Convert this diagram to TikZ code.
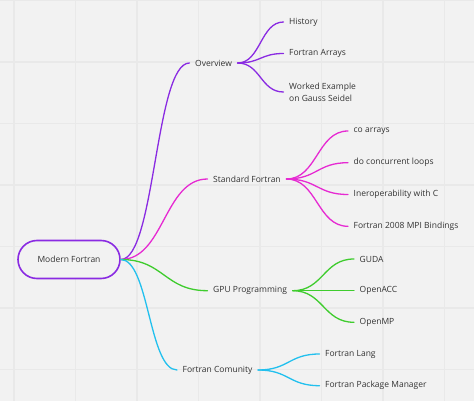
\documentclass[tikz,border=0pt]{standalone}
\usepackage{fontspec}
\setmainfont{Open Sans}
\usetikzlibrary{calc}
\definecolor{bg}{HTML}{F2F2F2}
\definecolor{gridc}{HTML}{E9E9E9}
\definecolor{txt}{HTML}{333333}
\definecolor{cpurple}{HTML}{8A2BE2}
\definecolor{cmagenta}{HTML}{E62AD2}
\definecolor{cgreen}{HTML}{3FCC2E}
\definecolor{ccyan}{HTML}{22C0EE}
\newcommand\conn[3]{\draw[branch,#1] let \p1=(#2), \p2=(#3) in (\p1) .. controls ({(\x1+\x2)/2},\y1) and ({(\x1+\x2)/2},\y2) .. (\p2);}
\begin{document}
\begin{tikzpicture}[x=1pt,y=-1pt,
  every node/.style={font=\fontsize{8.5}{12}\selectfont, text=txt},
  leaf/.style={anchor=west, inner xsep=5.5pt, inner ysep=1pt, align=left},
  rootbox/.style={draw=cpurple, line width=1.6pt, rounded corners=19pt, minimum width=102pt, minimum height=38pt, fill=bg},
  branch/.style={line width=1.3pt, line cap=round}]
\fill[bg] (0,0) rectangle (474,401);
\useasboundingbox (0,0) rectangle (474,401);
\foreach \x in {14,75.5,137,198.5,260,321.5,383,444.5} \draw[gridc, line width=1.1pt] (\x,0) -- (\x,401);
\foreach \y in {0.5,62,123.5,185,246.5,308,369.5} \draw[gridc, line width=1.1pt] (0,\y) -- (474,\y);

\node[rootbox] (root) at (69,259.5) {Modern Fortran};

\node[leaf] (ov) at (189.5,63) {Overview};
\node[leaf] (hist) at (283.5,22) {History};
\node[leaf] (arr) at (283.5,53.5) {Fortran Arrays};
\node[leaf] (gs) at (283.5,92) {Worked Example\\on Gauss Seidel};

\node[leaf] (std) at (207.5,179) {Standard Fortran};
\node[leaf] (co) at (348,131) {co arrays};
\node[leaf] (dc) at (348,162.7) {do concurrent loops};
\node[leaf] (ic) at (348,194.5) {Ineroperability with C};
\node[leaf] (mpi) at (348,226.3) {Fortran 2008 MPI Bindings};

\node[leaf] (gpu) at (207.5,290.7) {GPU Programming};
\node[leaf] (cuda) at (354,259) {GUDA};
\node[leaf] (acc) at (354,290.7) {OpenACC};
\node[leaf] (omp) at (354,322.3) {OpenMP};

\node[leaf] (com) at (177,370) {Fortran Comunity};
\node[leaf] (lang) at (319.5,354) {Fortran Lang};
\node[leaf] (fpm) at (319.5,385.7) {Fortran Package Manager};

\conn{cpurple}{root.east}{ov.west}
\conn{cmagenta}{root.east}{std.west}
\conn{cgreen}{root.east}{gpu.west}
\conn{ccyan}{root.east}{com.west}

\conn{cpurple}{ov.east}{hist.west}
\conn{cpurple}{ov.east}{arr.west}
\conn{cpurple}{ov.east}{gs.west}

\conn{cmagenta}{std.east}{co.west}
\conn{cmagenta}{std.east}{dc.west}
\conn{cmagenta}{std.east}{ic.west}
\conn{cmagenta}{std.east}{mpi.west}

\conn{cgreen}{gpu.east}{cuda.west}
\conn{cgreen}{gpu.east}{acc.west}
\conn{cgreen}{gpu.east}{omp.west}

\conn{ccyan}{com.east}{lang.west}
\conn{ccyan}{com.east}{fpm.west}
\end{tikzpicture}
\end{document}
